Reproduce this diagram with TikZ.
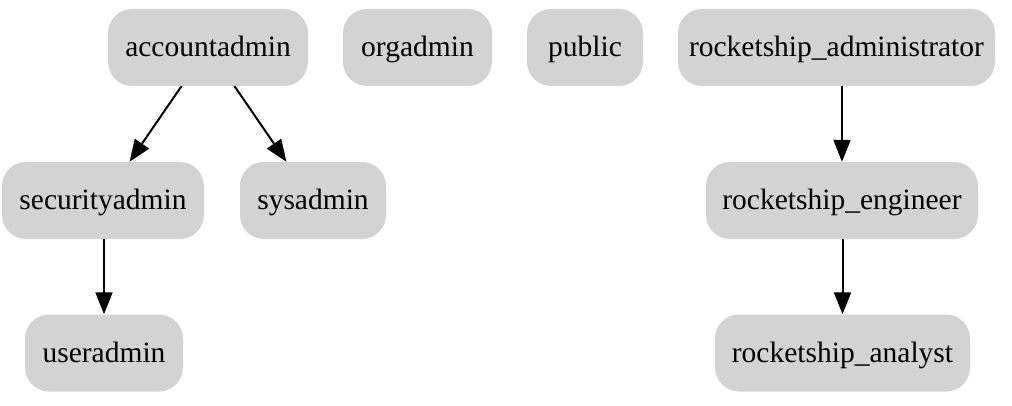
\documentclass[tikz,border=0pt]{standalone}
\usepackage{fontspec}
\setmainfont{Liberation Serif}
\usepackage{tikz}
\usetikzlibrary{arrows.meta}
\definecolor{rolegray}{HTML}{D3D3D3}
\begin{document}
\begin{tikzpicture}[x=1pt,y=-1pt,line join=round]
\tikzstyle{role} = [fill=rolegray,rounded corners=24pt,minimum height=77pt,text height=24pt,text depth=6pt,inner xsep=0pt,font=\fontsize{29.5}{34}\selectfont]
\tikzstyle{grant} = [line width=2pt,-{Triangle[length=22pt,width=17pt]}]
\useasboundingbox (0,0) rectangle (1012,406);
\node[role,minimum width=200pt] (accountadmin) at (208,47.5) {accountadmin};
\node[role,minimum width=149pt] (orgadmin) at (417.5,47.5) {orgadmin};
\node[role,minimum width=116pt] (public) at (585,47.5) {public};
\node[role,minimum width=317pt] (rsadmin) at (836.5,47.5) {rocketship\_administrator};
\node[role,minimum width=202pt] (securityadmin) at (103,200.5) {securityadmin};
\node[role,minimum width=146pt] (sysadmin) at (313,200.5) {sysadmin};
\node[role,minimum width=272pt] (rsengineer) at (842,200.5) {rocketship\_engineer};
\node[role,minimum width=158pt] (useradmin) at (104,353) {useradmin};
\node[role,minimum width=255pt] (rsanalyst) at (842.5,353) {rocketship\_analyst};
\draw[grant] (accountadmin) -- (securityadmin);
\draw[grant] (accountadmin) -- (sysadmin);
\draw[grant] (securityadmin.south -| useradmin.north) -- (useradmin);
\draw[grant] (rsadmin.south -| rsengineer.north) -- (rsengineer);
\draw[grant] (rsengineer.south -| rsanalyst.north) -- (rsanalyst);
\end{tikzpicture}
\end{document}
